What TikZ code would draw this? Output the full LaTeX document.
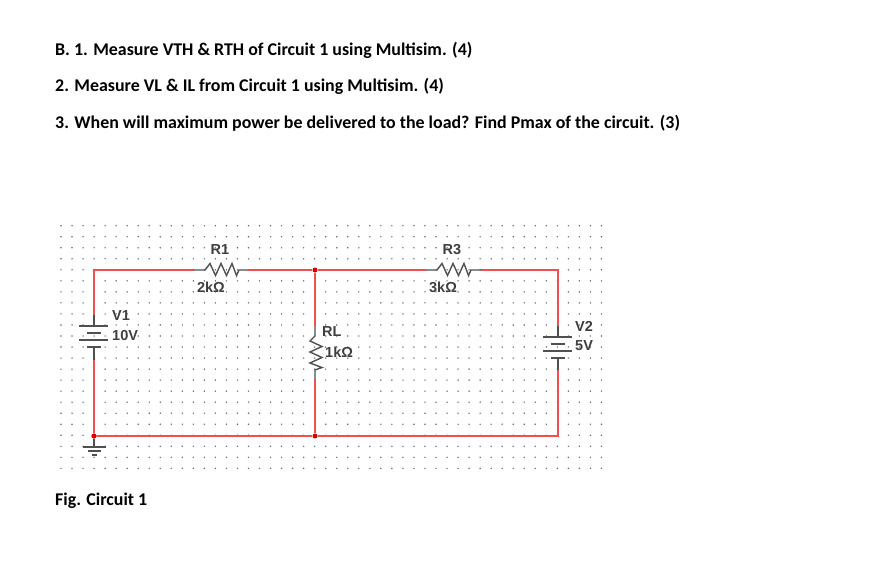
\documentclass[tikz,border=0pt]{standalone}
\usepackage{fontspec}
\setmainfont{Carlito}
\newfontfamily\schem{Liberation Sans}
\definecolor{wirered}{RGB}{240,80,80}
\definecolor{leadgrey}{RGB}{80,80,80}
\definecolor{griddot}{RGB}{105,105,105}
\tikzset{
  x=1pt,y=-1pt,
  headline/.style={anchor=base west,inner sep=0pt,font=\fontsize{17.9}{20}\selectfont\bfseries,text=black},
  lbl/.style={inner sep=0pt,font=\schem\fontsize{14.5}{16}\selectfont\bfseries,text=black!75},
  wire/.style={draw=wirered,line width=1.7pt},
  lead/.style={draw=leadgrey,line width=1.4pt},
  joint/.style={circle,fill=red!85!black,inner sep=0pt,minimum size=5pt},
  griddotstyle/.style={fill=griddot}
}
\begin{document}
\begin{tikzpicture}
\useasboundingbox (0,0) rectangle (887,576);
\fill[white] (0,0) rectangle (887,576);
% headings
\node[headline] (h1) at (55,55) {B. 1. Measure VTH \& RTH of Circuit 1 using Multisim. (4)};
\node[headline] (h2) at (55,91) {2. Measure VL \& IL from Circuit 1 using Multisim. (4)};
\node[headline] (h3) at (55,128) {3. When will maximum power be delivered to the load? Find Pmax of the circuit. (3)};
\node[headline] (fig) at (55,505) {Fig. Circuit 1};
% grid
\foreach \i in {0,...,49}{
  \foreach \j in {0,...,22}{
    \fill[griddotstyle] (61+11.03*\i,225.7+11.03*\j) circle (0.8);
  }
}
% junctions and corners
\coordinate (tl) at (94,270);
\coordinate (tr) at (558,270);
\node[joint] (jt) at (315,270) {};
\node[joint] (jbl) at (94,436) {};
\node[joint] (jbm) at (315,436) {};
\coordinate (br) at (558,436);
% terminals
\coordinate (r1a) at (193,270); \coordinate (r1b) at (248,270);
\coordinate (r3a) at (425,270); \coordinate (r3b) at (481,270);
\coordinate (rla) at (315,326); \coordinate (rlb) at (315,380);
\coordinate (v1a) at (94,315);  \coordinate (v1b) at (94,360);
\coordinate (v2a) at (558,326); \coordinate (v2b) at (558,370);
\coordinate (gnd) at (94,447);
% wires
\draw[wire] (v1a) -- (tl) -- (r1a);
\draw[wire] (r1b) -- (jt) -- (r3a);
\draw[wire] (r3b) -- (tr) -- (v2a);
\draw[wire] (jt) -- (rla);
\draw[wire] (rlb) -- (jbm);
\draw[wire] (v1b) -- (jbl) -- (jbm) -- (br) -- (v2b);
% R1
\draw[lead] (r1a) -- ++(12,0) -- ++(5,-6.5) -- ++(5.5,12) -- ++(5.5,-12) -- ++(5.5,12) -- ++(5.5,-12) -- ++(4.5,12) -- ++(2.5,-5.5) -- (r1b);
% R3
\draw[lead] (r3a) -- ++(12,0) -- ++(5,-6.5) -- ++(5.5,12) -- ++(5.5,-12) -- ++(5.5,12) -- ++(5.5,-12) -- ++(4.5,12) -- ++(2.5,-5.5) -- (r3b);
% RL
\draw[lead] (rla) -- ++(0,10) -- ++(-5,5) -- ++(12,5.5) -- ++(-12,5.5) -- ++(12,5.5) -- ++(-12,5.5) -- ++(12,4.5) -- ++(-7,2.5) -- (rlb);
% V1
\draw[lead] (v1a) -- ++(0,11);
\draw[lead] (79,326) -- (108,326);
\draw[lead] (87,333) -- (101,333);
\draw[lead] (79,340) -- (108,340);
\draw[lead] (87,347) -- (101,347);
\draw[lead] (94,347) -- (v1b);
% V2
\draw[lead] (v2a) -- ++(0,11);
\draw[lead] (543,337) -- (572,337);
\draw[lead] (551,344) -- (565,344);
\draw[lead] (543,351) -- (572,351);
\draw[lead] (551,358) -- (565,358);
\draw[lead] (558,358) -- (v2b);
% ground
\draw[lead] (jbl) -- (gnd);
\draw[lead] (83,447) -- (106,447);
\draw[lead] (88,451) -- (101,451);
\draw[lead] (92,455) -- (97,455);
\node[joint] at (jbl) {};
% labels
\node[lbl] (lr1) at (220,250) {R1};
\node[lbl] (vr1) at (211,287) {2kΩ};
\node[lbl] (lr3) at (452,250) {R3};
\node[lbl] (vr3) at (443,287) {3kΩ};
\node[lbl,anchor=west] (lv1) at (112,316) {V1};
\node[lbl,anchor=west] (vv1) at (112,336) {10V};
\node[lbl,anchor=west] (lrl) at (322,332) {RL};
\node[lbl,anchor=west] (vrl) at (325,352) {1kΩ};
\node[lbl,anchor=west] (lv2) at (575,326) {V2};
\node[lbl,anchor=west] (vv2) at (575,346) {5V};
\end{tikzpicture}
\end{document}
